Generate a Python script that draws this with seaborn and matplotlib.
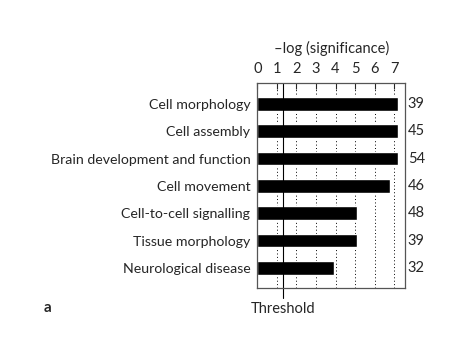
import matplotlib
matplotlib.use("Agg")
import matplotlib.pyplot as plt
import seaborn as sns
import pandas as pd

categories = ["Cell morphology", "Cell assembly", "Brain development and function",
              "Cell movement", "Cell-to-cell signalling", "Tissue morphology",
              "Neurological disease"]
neg_log_sig = [7.2, 7.2, 7.2, 6.8, 5.1, 5.1, 3.9]
counts = [39, 45, 54, 46, 48, 39, 32]
threshold = 1.3

df = pd.DataFrame({"category": categories, "value": neg_log_sig})

sns.set_style("white")
plt.rcParams["font.family"] = ["Lato", "DejaVu Sans"]

fig = plt.figure(figsize=(4.74, 3.56), dpi=100)
ax = fig.add_axes([0.5428, 0.191, 0.3116, 0.576])

sns.barplot(data=df, y="category", x="value", orient="h", color="black",
            width=0.5, ax=ax, saturation=1)

xmax = 7.55
ybot, ytop = 6.73, -0.76
ax.set_xlim(0, xmax)
ax.set_ylim(ybot, ytop)
ax.set_xticks(range(8))
ax.xaxis.tick_top()
ax.xaxis.set_label_position("top")
ax.tick_params(axis="x", direction="in", length=4, width=0.8, pad=5, labelsize=10.5)
ax.tick_params(axis="y", length=0, labelsize=10.2, pad=5)
ax.set_xlabel("\u2013log (significance)", fontsize=10.5, labelpad=6.5)
ax.set_ylabel("")

for x in range(1, 8):
    ax.axvline(x, color="black", linestyle=(0, (1, 2.5)), linewidth=0.7, zorder=0)

for sp in ax.spines.values():
    sp.set_color("#555555")
    sp.set_linewidth(0.9)

# threshold line, running out below the box
ax.plot([threshold, threshold], [ytop, ybot + 0.37], color="black", linewidth=0.8,
        clip_on=False, zorder=1)
ax.text(threshold, ybot + 0.75, "Threshold", ha="center", va="center", fontsize=10.5)

for i, c in enumerate(counts):
    ax.text(xmax + 0.15, i, str(c), ha="left", va="center", fontsize=10.5)

fig.text(0.1, 0.135, "a", fontsize=11, fontweight="bold", ha="center", va="center")

fig.savefig("out.png", dpi=100)
